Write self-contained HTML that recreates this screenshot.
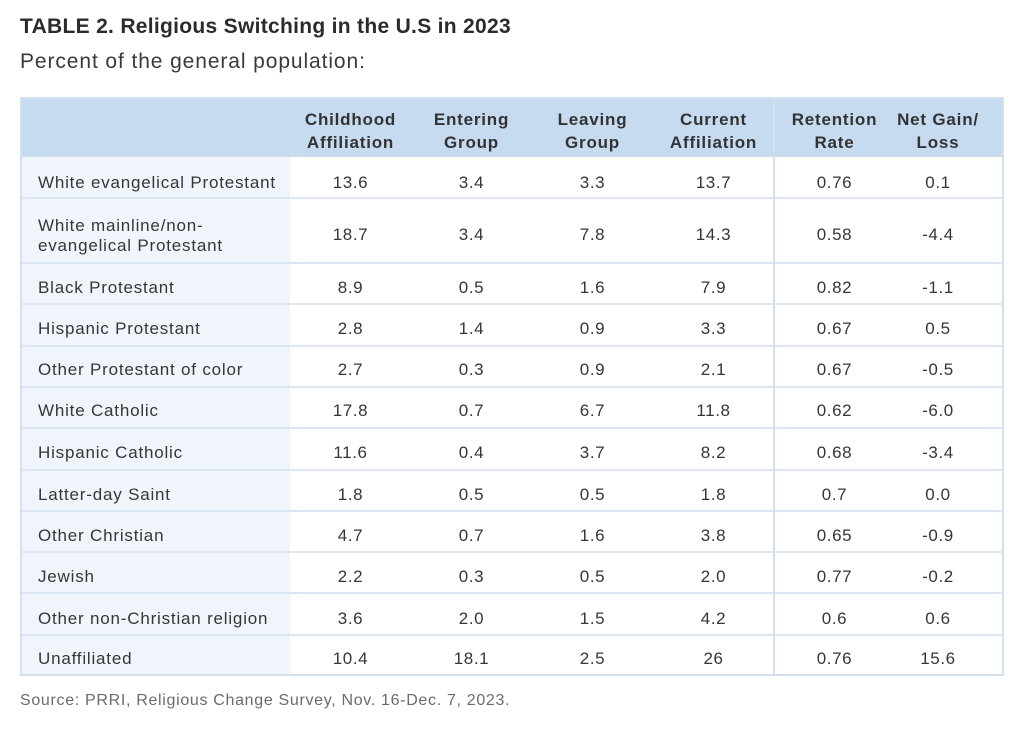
<!DOCTYPE html>
<html>
<head>
<meta charset="utf-8">
<style>
  html,body{margin:0;padding:0;background:#fff;}
  body{width:1024px;height:733px;position:relative;overflow:hidden;font-family:"Liberation Sans",Arial,sans-serif;color:#3a3a3a;}
  .abs{position:absolute;}
  .title{left:20px;top:14px;font-size:21px;font-weight:bold;color:#2b2b2b;letter-spacing:0.3px;white-space:nowrap;line-height:26px;}
  .sub{left:20px;top:49px;font-size:21px;color:#3a3a3a;letter-spacing:0.9px;white-space:nowrap;line-height:26px;}
  .hdrbg{left:21px;top:97px;width:982px;height:60px;background:#c6daf0;}
  .col1bg{left:21px;top:157px;width:269px;height:518px;background:#f0f5fc;}
  .frame{left:20px;top:97px;width:980px;height:575px;border:2px solid #d3e0ee;}
  .vline{left:773px;top:97px;width:2px;height:579px;background:#d3e0ee;}
  .hline{left:21px;width:982px;height:2px;background:#dce7f3;}
  .h{font-size:17px;font-weight:bold;line-height:23px;text-align:center;color:#333;letter-spacing:0.8px;top:108px;white-space:nowrap;}
  .lab{left:38px;font-size:17px;line-height:20px;letter-spacing:0.8px;white-space:nowrap;color:#363636;}
  .c{font-size:17px;line-height:20px;text-align:center;letter-spacing:0.6px;white-space:nowrap;color:#363636;}
  .src{left:20px;top:691px;font-size:16px;line-height:20px;color:#6b6b6b;letter-spacing:0.68px;white-space:nowrap;}
  .c1{left:290px;width:121px;}
  .c2{left:411px;width:121px;}
  .c3{left:532px;width:121px;}
  .c4{left:653px;width:121px;}
  .c5{left:774px;width:121px;}
  .c6{left:895px;width:86px;}
</style>
</head>
<body>
<div class="abs title">TABLE 2. Religious Switching in the U.S in 2023</div>
<div class="abs sub">Percent of the general population:</div>

<div class="abs hdrbg"></div>
<div class="abs col1bg"></div>

<div class="abs hline" style="top:156px;background:#d0dcea;height:1px;"></div>
<div class="abs hline" style="top:197px;"></div>
<div class="abs hline" style="top:262px;"></div>
<div class="abs hline" style="top:303px;"></div>
<div class="abs hline" style="top:345px;"></div>
<div class="abs hline" style="top:386px;"></div>
<div class="abs hline" style="top:427px;"></div>
<div class="abs hline" style="top:469px;"></div>
<div class="abs hline" style="top:510px;"></div>
<div class="abs hline" style="top:551px;"></div>
<div class="abs hline" style="top:592px;"></div>
<div class="abs hline" style="top:634px;"></div>

<div class="abs vline"></div>
<div class="abs frame"></div>

<!-- header -->
<div class="abs h c1">Childhood<br>Affiliation</div>
<div class="abs h c2">Entering<br>Group</div>
<div class="abs h c3">Leaving<br>Group</div>
<div class="abs h c4">Current<br>Affiliation</div>
<div class="abs h c5">Retention<br>Rate</div>
<div class="abs h c6">Net Gain/<br>Loss</div>

<!-- row 1 -->
<div class="abs lab" style="top:173px;">White evangelical Protestant</div>
<div class="abs c c1" style="top:173px;">13.6</div>
<div class="abs c c2" style="top:173px;">3.4</div>
<div class="abs c c3" style="top:173px;">3.3</div>
<div class="abs c c4" style="top:173px;">13.7</div>
<div class="abs c c5" style="top:173px;">0.76</div>
<div class="abs c c6" style="top:173px;">0.1</div>

<!-- row 2 -->
<div class="abs lab" style="top:216px;">White mainline/non-<br>evangelical Protestant</div>
<div class="abs c c1" style="top:225px;">18.7</div>
<div class="abs c c2" style="top:225px;">3.4</div>
<div class="abs c c3" style="top:225px;">7.8</div>
<div class="abs c c4" style="top:225px;">14.3</div>
<div class="abs c c5" style="top:225px;">0.58</div>
<div class="abs c c6" style="top:225px;">-4.4</div>

<!-- row 3 -->
<div class="abs lab" style="top:278px;">Black Protestant</div>
<div class="abs c c1" style="top:278px;">8.9</div>
<div class="abs c c2" style="top:278px;">0.5</div>
<div class="abs c c3" style="top:278px;">1.6</div>
<div class="abs c c4" style="top:278px;">7.9</div>
<div class="abs c c5" style="top:278px;">0.82</div>
<div class="abs c c6" style="top:278px;">-1.1</div>

<!-- row 4 -->
<div class="abs lab" style="top:319px;">Hispanic Protestant</div>
<div class="abs c c1" style="top:319px;">2.8</div>
<div class="abs c c2" style="top:319px;">1.4</div>
<div class="abs c c3" style="top:319px;">0.9</div>
<div class="abs c c4" style="top:319px;">3.3</div>
<div class="abs c c5" style="top:319px;">0.67</div>
<div class="abs c c6" style="top:319px;">0.5</div>

<!-- row 5 -->
<div class="abs lab" style="top:360px;">Other Protestant of color</div>
<div class="abs c c1" style="top:360px;">2.7</div>
<div class="abs c c2" style="top:360px;">0.3</div>
<div class="abs c c3" style="top:360px;">0.9</div>
<div class="abs c c4" style="top:360px;">2.1</div>
<div class="abs c c5" style="top:360px;">0.67</div>
<div class="abs c c6" style="top:360px;">-0.5</div>

<!-- row 6 -->
<div class="abs lab" style="top:401px;">White Catholic</div>
<div class="abs c c1" style="top:401px;">17.8</div>
<div class="abs c c2" style="top:401px;">0.7</div>
<div class="abs c c3" style="top:401px;">6.7</div>
<div class="abs c c4" style="top:401px;">11.8</div>
<div class="abs c c5" style="top:401px;">0.62</div>
<div class="abs c c6" style="top:401px;">-6.0</div>

<!-- row 7 -->
<div class="abs lab" style="top:443px;">Hispanic Catholic</div>
<div class="abs c c1" style="top:443px;">11.6</div>
<div class="abs c c2" style="top:443px;">0.4</div>
<div class="abs c c3" style="top:443px;">3.7</div>
<div class="abs c c4" style="top:443px;">8.2</div>
<div class="abs c c5" style="top:443px;">0.68</div>
<div class="abs c c6" style="top:443px;">-3.4</div>

<!-- row 8 -->
<div class="abs lab" style="top:485px;">Latter-day Saint</div>
<div class="abs c c1" style="top:485px;">1.8</div>
<div class="abs c c2" style="top:485px;">0.5</div>
<div class="abs c c3" style="top:485px;">0.5</div>
<div class="abs c c4" style="top:485px;">1.8</div>
<div class="abs c c5" style="top:485px;">0.7</div>
<div class="abs c c6" style="top:485px;">0.0</div>

<!-- row 9 -->
<div class="abs lab" style="top:526px;">Other Christian</div>
<div class="abs c c1" style="top:526px;">4.7</div>
<div class="abs c c2" style="top:526px;">0.7</div>
<div class="abs c c3" style="top:526px;">1.6</div>
<div class="abs c c4" style="top:526px;">3.8</div>
<div class="abs c c5" style="top:526px;">0.65</div>
<div class="abs c c6" style="top:526px;">-0.9</div>

<!-- row 10 -->
<div class="abs lab" style="top:567px;">Jewish</div>
<div class="abs c c1" style="top:567px;">2.2</div>
<div class="abs c c2" style="top:567px;">0.3</div>
<div class="abs c c3" style="top:567px;">0.5</div>
<div class="abs c c4" style="top:567px;">2.0</div>
<div class="abs c c5" style="top:567px;">0.77</div>
<div class="abs c c6" style="top:567px;">-0.2</div>

<!-- row 11 -->
<div class="abs lab" style="top:609px;">Other non-Christian religion</div>
<div class="abs c c1" style="top:609px;">3.6</div>
<div class="abs c c2" style="top:609px;">2.0</div>
<div class="abs c c3" style="top:609px;">1.5</div>
<div class="abs c c4" style="top:609px;">4.2</div>
<div class="abs c c5" style="top:609px;">0.6</div>
<div class="abs c c6" style="top:609px;">0.6</div>

<!-- row 12 -->
<div class="abs lab" style="top:649px;">Unaffiliated</div>
<div class="abs c c1" style="top:649px;">10.4</div>
<div class="abs c c2" style="top:649px;">18.1</div>
<div class="abs c c3" style="top:649px;">2.5</div>
<div class="abs c c4" style="top:649px;">26</div>
<div class="abs c c5" style="top:649px;">0.76</div>
<div class="abs c c6" style="top:649px;">15.6</div>

<div class="abs src">Source: PRRI, Religious Change Survey, Nov. 16-Dec. 7, 2023.</div>
</body>
</html>
